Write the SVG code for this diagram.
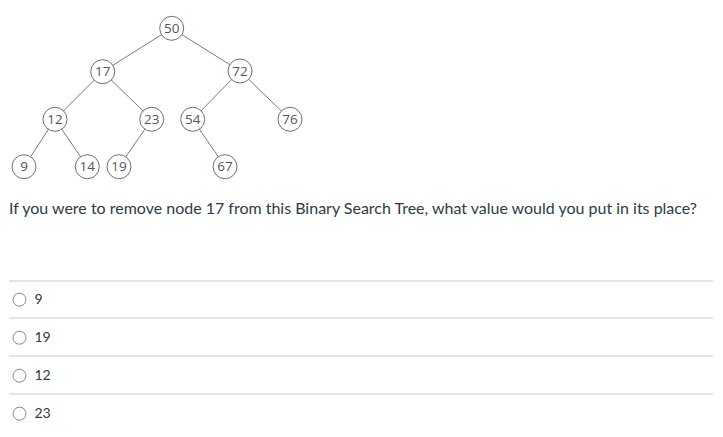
<svg xmlns="http://www.w3.org/2000/svg" width="723" height="437" viewBox="0 0 723 437">
<style>
.n circle{fill:#fff;stroke:#6e6e6e;stroke-width:1}
.n text{font-family:"Open Sans","Noto Sans",sans-serif;font-size:13.5px;fill:#555;text-anchor:middle}
.e line{stroke:#7a7a7a;stroke-width:1}
.q{font-family:Lato,"Liberation Sans",sans-serif;font-size:15px;fill:#2d3b45}
.o{font-family:Lato,"Liberation Sans",sans-serif;font-size:14px;fill:#2d3b45}
.sep{stroke:#dcdcdc;stroke-width:1.5}
.r{fill:#fff;stroke:#8a8a8a;stroke-width:1}
</style>
<rect width="723" height="437" fill="#fff"/>
<g id="edges" class="e">
<line x1="171.7" y1="28.3" x2="102.7" y2="71.7"/>
<line x1="171.7" y1="28.3" x2="240" y2="71"/>
<line x1="102.7" y1="71.7" x2="55" y2="119.3"/>
<line x1="102.7" y1="71.7" x2="151.7" y2="119.3"/>
<line x1="240" y1="71" x2="192.7" y2="119.3"/>
<line x1="240" y1="71" x2="290" y2="119.3"/>
<line x1="55" y1="119.3" x2="24" y2="166.7"/>
<line x1="55" y1="119.3" x2="87.3" y2="166.7"/>
<line x1="151.7" y1="119.3" x2="119" y2="166.7"/>
<line x1="192.7" y1="119.3" x2="225" y2="166.7"/>
</g>
<g id="n50" class="n"><circle cx="171.7" cy="28.3" r="12"/><text x="171.7" y="33">50</text></g>
<g id="n17" class="n"><circle cx="102.7" cy="71.7" r="12"/><text x="102.7" y="76.4">17</text></g>
<g id="n72" class="n"><circle cx="240" cy="71" r="12"/><text x="240" y="75.7">72</text></g>
<g id="n12" class="n"><circle cx="55" cy="119.3" r="12"/><text x="55" y="124">12</text></g>
<g id="n23" class="n"><circle cx="151.7" cy="119.3" r="12"/><text x="151.7" y="124">23</text></g>
<g id="n54" class="n"><circle cx="192.7" cy="119.3" r="12"/><text x="192.7" y="124">54</text></g>
<g id="n76" class="n"><circle cx="290" cy="119.3" r="12"/><text x="290" y="124">76</text></g>
<g id="n9" class="n"><circle cx="24" cy="166.7" r="12"/><text x="24" y="171.4">9</text></g>
<g id="n14" class="n"><circle cx="87.3" cy="166.7" r="12"/><text x="87.3" y="171.4">14</text></g>
<g id="n19" class="n"><circle cx="119" cy="166.7" r="12"/><text x="119" y="171.4">19</text></g>
<g id="n67" class="n"><circle cx="225" cy="166.7" r="12"/><text x="225" y="171.4">67</text></g>
<text class="q" x="9" y="214" textLength="688" lengthAdjust="spacingAndGlyphs">If you were to remove node 17 from this Binary Search Tree, what value would you put in its place?</text>
<g id="options">
<line class="sep" x1="9" y1="281" x2="713" y2="281"/>
<circle class="r" cx="19.5" cy="299.7" r="6.5"/><text class="o" x="34.5" y="303.5">9</text>
<line class="sep" x1="9" y1="318" x2="713" y2="318"/>
<circle class="r" cx="19.5" cy="337.7" r="6.5"/><text class="o" x="34.5" y="341.5">19</text>
<line class="sep" x1="9" y1="356" x2="713" y2="356"/>
<circle class="r" cx="19.5" cy="375.7" r="6.5"/><text class="o" x="34.5" y="379.5">12</text>
<line class="sep" x1="9" y1="394" x2="713" y2="394"/>
<circle class="r" cx="19.5" cy="413.7" r="6.5"/><text class="o" x="34.5" y="417.5">23</text>
</g>
</svg>
